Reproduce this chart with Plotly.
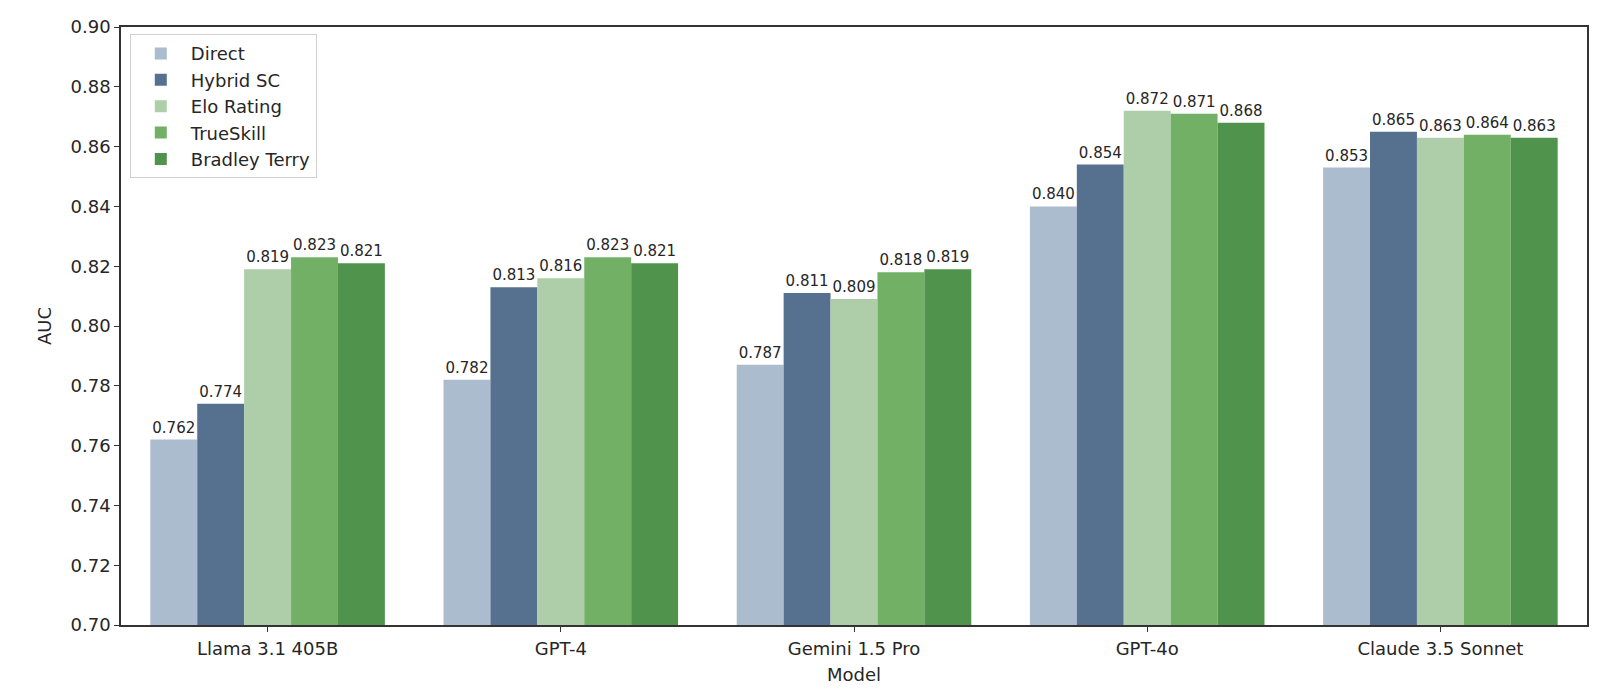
import plotly.graph_objects as go

models = ["Llama 3.1 405B", "GPT-4", "Gemini 1.5 Pro", "GPT-4o", "Claude 3.5 Sonnet"]

direct = [0.762, 0.782, 0.787, 0.840, 0.853]
hybrid_sc = [0.774, 0.813, 0.811, 0.854, 0.865]
elo_rating = [0.819, 0.816, 0.809, 0.872, 0.863]
trueskill = [0.823, 0.823, 0.818, 0.871, 0.864]
bradley_terry = [0.821, 0.821, 0.819, 0.868, 0.863]

y_ticks = [0.70, 0.72, 0.74, 0.76, 0.78, 0.80, 0.82, 0.84, 0.86, 0.88, 0.90]

series = [
    ("Direct", direct, "#aabcce"),
    ("Hybrid SC", hybrid_sc, "#56708f"),
    ("Elo Rating", elo_rating, "#adcea8"),
    ("TrueSkill", trueskill, "#72b066"),
    ("Bradley Terry", bradley_terry, "#4f934c"),
]

FONT = "DejaVu Sans"
TXT = "#262626"

fig = go.Figure()
for name, vals, color in series:
    fig.add_trace(go.Bar(
        x=models, y=vals, name=name,
        marker=dict(color=color, line=dict(width=0)),
        text=[f"{v:.3f}" for v in vals],
        textposition="outside",
        textfont=dict(family=FONT, size=15, color=TXT),
        constraintext="none",
        cliponaxis=False,
    ))

fig.update_layout(
    width=1613, height=693,
    margin=dict(l=121, r=26, t=27, b=68),
    barmode="group", bargap=0.2, bargroupgap=0,
    plot_bgcolor="white", paper_bgcolor="white",
    font=dict(family=FONT, size=18, color=TXT),
    legend=dict(
        x=0.006, y=0.988, xanchor="left", yanchor="top",
        bgcolor="rgba(255,255,255,0.8)", bordercolor="#d0d0d0", borderwidth=1,
        font=dict(family=FONT, size=18, color=TXT),
        itemwidth=50, tracegroupgap=4,
    ),
)

fig.update_xaxes(
    title=dict(text="Model", font=dict(size=18), standoff=10),
    showline=True, linecolor="#333333", linewidth=1.5, mirror=True,
    ticks="outside", ticklen=5, tickcolor="#333333",
    tickfont=dict(size=18), ticklabelstandoff=2, showgrid=False,
)
fig.update_yaxes(
    title=dict(text="AUC", font=dict(size=18), standoff=14),
    range=[0.70, 0.90], tickvals=y_ticks, tickformat=".2f",
    showline=True, linecolor="#333333", linewidth=1.5, mirror=True,
    ticks="outside", ticklen=5, tickcolor="#333333",
    tickfont=dict(size=18), showgrid=False, zeroline=False,
)

# page body has a default 8px margin -> drop it so the figure fills the window
fig.write_html("out.html", config={"displayModeBar": False},
               post_script="document.body.style.margin='0';")
